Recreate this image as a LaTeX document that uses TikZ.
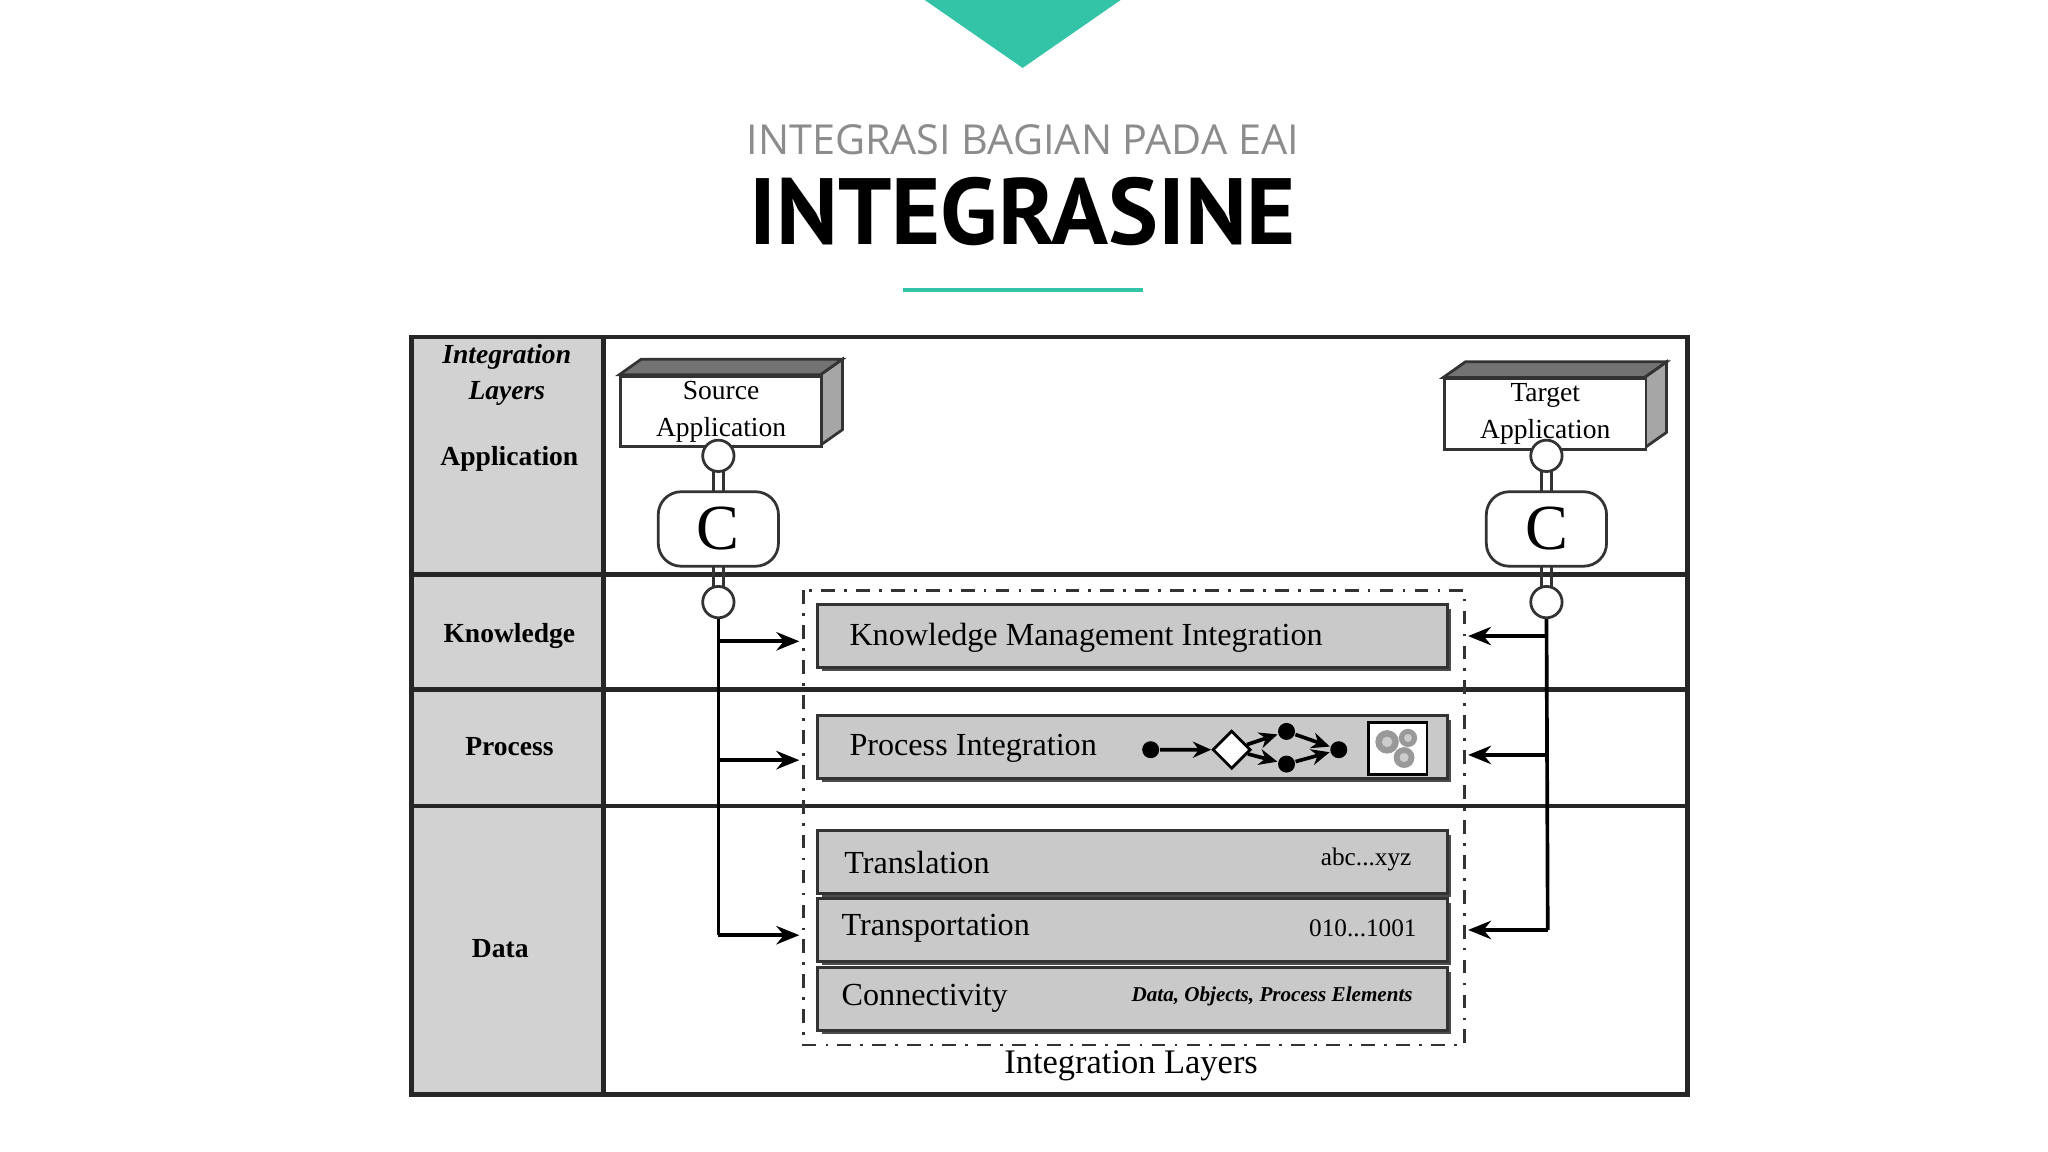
\documentclass[tikz,border=0pt]{standalone}
\usepackage{fontspec}
\setmainfont{Liberation Serif}
\newfontfamily\sans{Open Sans}
\newfontfamily\tsans{PT Sans}
\usetikzlibrary{arrows.meta}
\definecolor{teal}{HTML}{33C4A8}
\definecolor{lg}{HTML}{D2D2D2}
\definecolor{bar}{HTML}{C9C9C9}
\begin{document}
\begin{tikzpicture}[x=0.01cm,y=-0.01cm,
  frame/.style={line width=1pt,draw=black!85},
  lab/.style={font=\fontsize{6}{7}\selectfont\bfseries},
  barbox/.style={draw=black!80,line width=0.6pt,fill=bar},
  bartxt/.style={font=\fontsize{7}{8}\selectfont,anchor=west},
  lol/.style={circle,draw=black!80,fill=white,line width=0.6pt,minimum size=0.24cm,inner sep=0},
  arr/.style={line width=0.8pt,-{Stealth[length=5pt,width=4pt]}},
  dot/.style={circle,fill=black,minimum size=0.13cm,inner sep=0}]
\useasboundingbox (0,0) rectangle (1568,882);
\fill[white] (0,0) rectangle (1568,882);
% header
\fill[teal] (708,0) -- (858,0) -- (783,52) -- cycle;
\node (sub) at (783,107) {\sans\fontsize{9}{11}\selectfont\color{black!45} INTEGRASI BAGIAN PADA EAI};
\node (title) at (783,162) {\tsans\bfseries\fontsize{20.5}{24}\selectfont INTEGRASINE};
\draw[teal,line width=0.7pt] (691,222) -- (875,222);
% frame
\fill[lg] (315,258) rectangle (462,838);
\draw[frame] (315,258) rectangle (1292,838);
\draw[frame] (462,258) -- (462,838);
\foreach \y in {440,528,617} \draw[frame] (315,\y) -- (1292,\y);
\node[align=center,font=\fontsize{6}{8}\selectfont\bfseries\itshape] (il) at (388,287) {Integration\\Layers};
\node[lab] (app) at (390,351) {Application};
\node[lab] (kn) at (390,487) {Knowledge};
\node[lab] (pr) at (390,572) {Process};
\node[lab] (da) at (383,726) {Data};
% 3D boxes
\foreach \x/\y/\t/\n in {474/287/Source/src,1105/289/Target/tgt}{
  \fill[black!35,draw=black!80,line width=0.6pt] (\x+154,\y) -- (\x+171,\y-12) -- (\x+171,\y+42) -- (\x+154,\y+54) -- cycle;
  \fill[black!55,draw=black!80,line width=0.6pt] (\x,\y) -- (\x+17,\y-12) -- (\x+171,\y-12) -- (\x+154,\y) -- cycle;
  \node[draw=black!80,fill=white,line width=0.6pt,minimum width=1.54cm,minimum height=0.54cm,anchor=north west,align=center,font=\fontsize{6}{8}\selectfont,inner sep=0] (\n) at (\x,\y) {\t\\Application};
}
% connectors C
\foreach \x/\n in {550/s,1184/t}{
  \draw[black!80,line width=0.6pt] (\x-4,349) -- (\x-4,470) (\x+4,349) -- (\x+4,470);
  \node[lol] (\n c1) at (\x,349) {};
  \node[draw=black!80,fill=white,rounded corners=5pt,line width=0.6pt,minimum width=0.92cm,minimum height=0.57cm,inner sep=0,font=\fontsize{14}{14}\selectfont] (\n C) at (\x,405) {C};
  \node[lol] (\n c2) at (\x,461) {};
}
% dashed box
\draw[black!80,line width=0.6pt,dash dot] (615,452) rectangle (1121,800);
% bars
\foreach \y/\n in {463/kmi,548/pi,636/tr,688/tp,741/cn}{
  \fill[black!70] (629,\y+3) rectangle (1111,\y+51);
  \draw[barbox] (626,\y) rectangle (1108,\y+48);
  \coordinate (\n) at (626,\y+24);
}
\node[bartxt] (t1) at (638,488) {Knowledge Management Integration};
\node[bartxt] (t2) at (638,573) {Process Integration};
\node[bartxt] (t3) at (634,660) {Translation};
\node[bartxt] (t4) at (632,711) {Transportation};
\node[bartxt] (t5) at (632,764) {Connectivity};
\node[font=\fontsize{5.5}{6}\selectfont,anchor=east] (x1) at (1093,658) {abc...xyz};
\node[font=\fontsize{5.5}{6}\selectfont,anchor=east] (x2) at (1097,711) {010...1001};
\node[font=\fontsize{4.6}{5}\selectfont\bfseries\itshape,anchor=east] (x3) at (1094,763) {Data, Objects, Process Elements};
% process icons
\node[dot] (d0) at (881,574) {};
\node[draw,fill=white,line width=0.6pt,minimum size=0.2cm,inner sep=0,rotate=45] (dm) at (943,574) {};
\node[dot] (d1) at (985,560) {};
\node[dot] (d2) at (985,585) {};
\node[dot] (d3) at (1025,574) {};
\draw[line width=0.8pt,-{Stealth[length=4pt,width=3.5pt]}] (d0) -- (dm);
\draw[line width=0.8pt,-{Stealth[length=4pt,width=3.5pt]}] (dm) -- (d1);
\draw[line width=0.8pt,-{Stealth[length=4pt,width=3.5pt]}] (dm) -- (d2);
\draw[line width=0.8pt,-{Stealth[length=4pt,width=3.5pt]}] (d1) -- (d3);
\draw[line width=0.8pt,-{Stealth[length=4pt,width=3.5pt]}] (d2) -- (d3);
\node[draw,fill=white,line width=0.6pt,minimum width=0.45cm,minimum height=0.40cm,inner sep=0] (gear) at (1070,573) {};
\fill[black!40] (1062,568) circle (9) (1078,565) circle (7) (1075,580) circle (8);
\fill[black!20] (1062,568) circle (4) (1078,565) circle (3) (1075,580) circle (3.5);
% arrows
\coordinate (lb) at (550,716);
\coordinate (rb) at (1185,712);
\draw[line width=0.8pt] (sc2) -- (lb);
\draw[line width=0.8pt] (tc2) -- (rb);
\draw[arr] (550,491) -- (612,491);
\draw[arr] (550,582) -- (612,582);
\draw[arr] (lb) -- (612,716);
\draw[arr] (1185,487) -- (1124,487);
\draw[arr] (1185,578) -- (1124,578);
\draw[arr] (rb) -- (1124,712);
\node[font=\fontsize{7.5}{8}\selectfont] (bl) at (866,816) {Integration Layers};
\end{tikzpicture}
\end{document}
